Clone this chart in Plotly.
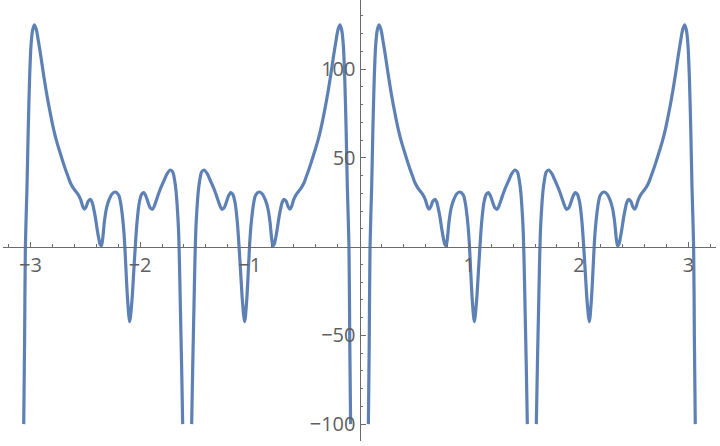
import plotly.graph_objects as go

# ---- data ----
# segment 0 < x < pi/2
x_seg1 = [0.081, 0.089, 0.096, 0.111, 0.122, 0.135, 0.148, 0.162, 0.178, 0.195, 0.217, 0.240, 0.263, 0.285, 0.308, 0.330, 0.354, 0.385, 0.415, 0.440, 0.460, 0.485, 0.506, 0.530, 0.551, 0.576, 0.600, 0.620, 0.634, 0.650, 0.668, 0.688, 0.705, 0.720, 0.734, 0.750, 0.764, 0.778, 0.789, 0.800, 0.816, 0.835, 0.855, 0.886, 0.916, 0.947, 0.965, 0.980, 0.992, 1.001, 1.014, 1.028, 1.047, 1.068, 1.083, 1.098, 1.114, 1.135, 1.155, 1.174, 1.195, 1.214, 1.235, 1.256, 1.275, 1.296, 1.320, 1.342, 1.365, 1.387, 1.417, 1.440, 1.455, 1.470, 1.484, 1.493, 1.501, 1.509, 1.520, 1.530]
y_seg1 = [-100, -52, 0, 34, 66, 96, 114, 122, 125, 122.5, 115, 106, 96.5, 88, 80, 73, 66, 58.5, 52.5, 47.5, 43.8, 39.5, 36, 33.3, 31.5, 29.5, 26.5, 22.5, 21.1, 22.5, 25.5, 26.7, 25, 21, 16.5, 10, 5, 1.2, 0.5, 4, 14, 21.5, 25.8, 29.7, 30.8, 29, 24.5, 17.5, 10, 2, -14, -30, -42.3, -30, -15, 0, 14, 25, 29.5, 30.5, 28.5, 25, 21.8, 21.1, 23.5, 27.3, 31.5, 34.8, 38, 41, 43.2, 42, 38, 31, 19, 8, -10, -34, -66, -100]

# segment pi/2 < x < pi
x_seg2 = [3.061, 3.053, 3.046, 3.031, 3.020, 3.007, 2.994, 2.980, 2.964, 2.947, 2.925, 2.902, 2.879, 2.857, 2.834, 2.812, 2.788, 2.757, 2.727, 2.702, 2.682, 2.657, 2.636, 2.612, 2.591, 2.566, 2.542, 2.522, 2.508, 2.492, 2.474, 2.454, 2.437, 2.422, 2.408, 2.392, 2.378, 2.364, 2.353, 2.342, 2.326, 2.307, 2.287, 2.256, 2.226, 2.195, 2.177, 2.162, 2.150, 2.141, 2.128, 2.114, 2.095, 2.074, 2.059, 2.044, 2.028, 2.007, 1.987, 1.968, 1.947, 1.928, 1.907, 1.886, 1.867, 1.846, 1.822, 1.800, 1.777, 1.755, 1.725, 1.702, 1.687, 1.672, 1.658, 1.649, 1.641, 1.633, 1.622, 1.612]
y_seg2 = [-100, -52, 0, 34, 66, 96, 114, 122, 125, 122.5, 115, 106, 96.5, 88, 80, 73, 66, 58.5, 52.5, 47.5, 43.8, 39.5, 36, 33.3, 31.5, 29.5, 26.5, 22.5, 21.1, 22.5, 25.5, 26.7, 25, 21, 16.5, 10, 5, 1.2, 0.5, 4, 14, 21.5, 25.8, 29.7, 30.8, 29, 24.5, 17.5, 10, 2, -14, -30, -42.3, -30, -15, 0, 14, 25, 29.5, 30.5, 28.5, 25, 21.8, 21.1, 23.5, 27.3, 31.5, 34.8, 38, 41, 43.2, 42, 38, 31, 19, 8, -10, -34, -66, -100]

# segment -pi/2 < x < 0
x_seg3 = [-0.081, -0.089, -0.096, -0.111, -0.122, -0.135, -0.148, -0.162, -0.178, -0.195, -0.217, -0.240, -0.263, -0.285, -0.308, -0.330, -0.354, -0.385, -0.415, -0.440, -0.460, -0.485, -0.506, -0.530, -0.551, -0.576, -0.600, -0.620, -0.634, -0.650, -0.668, -0.688, -0.705, -0.720, -0.734, -0.750, -0.764, -0.778, -0.789, -0.800, -0.816, -0.835, -0.855, -0.886, -0.916, -0.947, -0.965, -0.980, -0.992, -1.001, -1.014, -1.028, -1.047, -1.068, -1.083, -1.098, -1.114, -1.135, -1.155, -1.174, -1.195, -1.214, -1.235, -1.256, -1.275, -1.296, -1.320, -1.342, -1.365, -1.387, -1.417, -1.440, -1.455, -1.470, -1.484, -1.493, -1.501, -1.509, -1.520, -1.530]
y_seg3 = [-100, -52, 0, 34, 66, 96, 114, 122, 125, 122.5, 115, 106, 96.5, 88, 80, 73, 66, 58.5, 52.5, 47.5, 43.8, 39.5, 36, 33.3, 31.5, 29.5, 26.5, 22.5, 21.1, 22.5, 25.5, 26.7, 25, 21, 16.5, 10, 5, 1.2, 0.5, 4, 14, 21.5, 25.8, 29.7, 30.8, 29, 24.5, 17.5, 10, 2, -14, -30, -42.3, -30, -15, 0, 14, 25, 29.5, 30.5, 28.5, 25, 21.8, 21.1, 23.5, 27.3, 31.5, 34.8, 38, 41, 43.2, 42, 38, 31, 19, 8, -10, -34, -66, -100]

# segment -pi < x < -pi/2
x_seg4 = [-3.061, -3.053, -3.046, -3.031, -3.020, -3.007, -2.994, -2.980, -2.964, -2.947, -2.925, -2.902, -2.879, -2.857, -2.834, -2.812, -2.788, -2.757, -2.727, -2.702, -2.682, -2.657, -2.636, -2.612, -2.591, -2.566, -2.542, -2.522, -2.508, -2.492, -2.474, -2.454, -2.437, -2.422, -2.408, -2.392, -2.378, -2.364, -2.353, -2.342, -2.326, -2.307, -2.287, -2.256, -2.226, -2.195, -2.177, -2.162, -2.150, -2.141, -2.128, -2.114, -2.095, -2.074, -2.059, -2.044, -2.028, -2.007, -1.987, -1.968, -1.947, -1.928, -1.907, -1.886, -1.867, -1.846, -1.822, -1.800, -1.777, -1.755, -1.725, -1.702, -1.687, -1.672, -1.658, -1.649, -1.641, -1.633, -1.622, -1.612]
y_seg4 = [-100, -52, 0, 34, 66, 96, 114, 122, 125, 122.5, 115, 106, 96.5, 88, 80, 73, 66, 58.5, 52.5, 47.5, 43.8, 39.5, 36, 33.3, 31.5, 29.5, 26.5, 22.5, 21.1, 22.5, 25.5, 26.7, 25, 21, 16.5, 10, 5, 1.2, 0.5, 4, 14, 21.5, 25.8, 29.7, 30.8, 29, 24.5, 17.5, 10, 2, -14, -30, -42.3, -30, -15, 0, 14, 25, 29.5, 30.5, 28.5, 25, 21.8, 21.1, 23.5, 27.3, 31.5, 34.8, 38, 41, 43.2, 42, 38, 31, 19, 8, -10, -34, -66, -100]

x_tick_vals = [-3, -2, -1, 1, 2, 3]
x_tick_text = ["\u22123", "\u22122", "\u22121", "1", "2", "3"]
y_tick_vals = [-100, -50, 50, 100]
y_tick_text = ["\u2212100", "\u221250", "50", "100"]

# ---- style ----
X_RANGE = [-3.25, 3.25]
Y_RANGE = [-109.5, 139.0]
LINE_COLOR = "#5E81B5"
AXIS_COLOR = "#6b6b6b"
LABEL_COLOR = "#5f5f5f"

fig = go.Figure()
for xs, ys in [(x_seg4, y_seg4), (x_seg3, y_seg3), (x_seg1, y_seg1), (x_seg2, y_seg2)]:
    fig.add_trace(go.Scatter(x=xs, y=ys, mode="lines",
                             line=dict(color=LINE_COLOR, width=3.2, shape="spline", smoothing=0.8),
                             hoverinfo="skip", showlegend=False))

x_minor = [round(-3.2 + 0.2 * i, 1) for i in range(33)]
x_minor = [v for v in x_minor if abs(v - round(v)) > 1e-6]
y_minor = [v for v in range(-100, 140, 10) if v % 50 != 0]

xpos = (0 - Y_RANGE[0]) / (Y_RANGE[1] - Y_RANGE[0])
ypos = (0 - X_RANGE[0]) / (X_RANGE[1] - X_RANGE[0])

fig.update_layout(
    width=720, height=446,
    margin=dict(l=3, r=4, t=0, b=5),
    paper_bgcolor="white", plot_bgcolor="white",
    font=dict(family="Open Sans", size=20, color=LABEL_COLOR),
    xaxis=dict(range=X_RANGE, anchor="free", position=xpos, showgrid=False, zeroline=False,
               showline=True, linecolor=AXIS_COLOR, linewidth=1,
               tickmode="array", tickvals=x_tick_vals, ticktext=x_tick_text,
               ticks="inside", ticklen=5, tickwidth=1, tickcolor=AXIS_COLOR,
               ticklabelstandoff=0,
               minor=dict(tickmode="array", tickvals=x_minor, ticks="inside", ticklen=2.5,
                          tickwidth=1, tickcolor=AXIS_COLOR, showgrid=False),
               automargin=False),
    yaxis=dict(range=Y_RANGE, anchor="free", position=ypos, showgrid=False, zeroline=False,
               showline=True, linecolor=AXIS_COLOR, linewidth=1,
               tickmode="array", tickvals=y_tick_vals, ticktext=y_tick_text,
               ticks="inside", ticklen=5, tickwidth=1, tickcolor=AXIS_COLOR,
               ticklabelstandoff=0,
               minor=dict(tickmode="array", tickvals=y_minor, ticks="inside", ticklen=2.5,
                          tickwidth=1, tickcolor=AXIS_COLOR, showgrid=False),
               automargin=False),
)

fig.write_html("out.html",
               config={"displayModeBar": False},
               post_script="document.body.style.margin='0px';document.body.style.padding='0px';")
